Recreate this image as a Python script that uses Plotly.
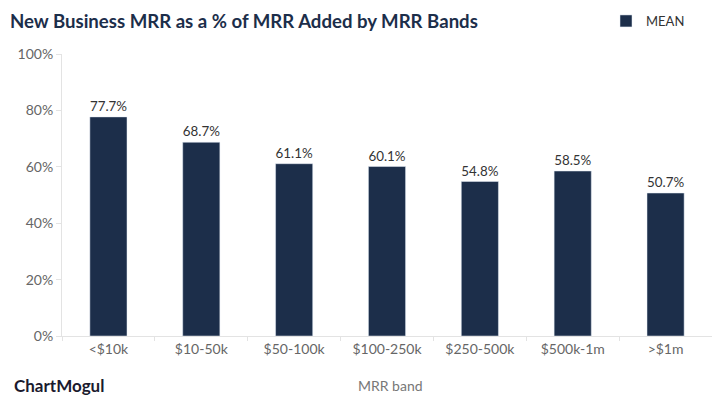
import plotly.graph_objects as go

categories = ["<$10k", "$10-50k", "$50-100k", "$100-250k", "$250-500k", "$500k-1m", ">$1m"]
mean_values = [77.7, 68.7, 61.1, 60.1, 54.8, 58.5, 50.7]
y_ticks = [0, 20, 40, 60, 80, 100]
y_tick_labels = ["0%", "20%", "40%", "60%", "80%", "100%"]

navy = "#1c2e4a"
font_family = "Lato, 'Open Sans', sans-serif"

# page body adds an 8px offset; positions below compensate for it
fig = go.Figure()
fig.add_trace(go.Bar(
    x=categories,
    y=mean_values,
    name="MEAN",
    marker=dict(color=navy),
    width=0.4,
    text=[f"{v:.1f}%" for v in mean_values],
    textposition="outside",
    textfont=dict(size=14, color="#333333", family=font_family),
    cliponaxis=False,
))

fig.update_layout(
    width=720, height=403,
    margin=dict(l=54, r=16, t=46, b=75, autoexpand=False),
    paper_bgcolor="white",
    plot_bgcolor="white",
    font=dict(family=font_family, color="#666666", size=14),
    title=dict(
        text="<b>New Business MRR as a % of MRR Added by MRR Bands</b>",
        x=2 / 720, xanchor="left", xref="container",
        y=1 - 13 / 403, yanchor="middle", yref="container",
        font=dict(size=18.6, color=navy, family=font_family),
        automargin=False,
    ),
    showlegend=True,
    legend=dict(
        x=598 / 720, y=1 - 13 / 403, xref="container", yref="container",
        xanchor="left", yanchor="middle",
        font=dict(size=13, color="#333333"),
        itemwidth=30,
        bgcolor="rgba(0,0,0,0)",
    ),
    xaxis=dict(
        showgrid=False,
        showline=True, linecolor="#e3e3e3", linewidth=1,
        ticks="outside", tickson="boundaries", ticklen=4, tickcolor="#e3e3e3",
        tickfont=dict(size=14, color="#666666"),
        automargin=False,
    ),
    yaxis=dict(
        range=[0, 100],
        tickvals=y_ticks, ticktext=y_tick_labels,
        showgrid=False,
        showline=True, linecolor="#e3e3e3", linewidth=1,
        ticks="outside", ticklen=5, tickcolor="#e3e3e3",
        tickfont=dict(size=14, color="#666666"),
        zeroline=False,
        automargin=False,
    ),
)

fig.add_annotation(text="MRR band", xref="paper", yref="paper", x=0.505, y=-0.174,
                   xanchor="center", yanchor="middle", showarrow=False,
                   font=dict(size=14, color="#777777"))
fig.add_annotation(text="<b>ChartMogul</b>", xref="paper", yref="paper", x=(12 - 62) / 650, y=-0.174,
                   xanchor="left", yanchor="middle", showarrow=False,
                   font=dict(size=17, color="#1a1a2e", family=font_family))

fig.write_html("out.html")
